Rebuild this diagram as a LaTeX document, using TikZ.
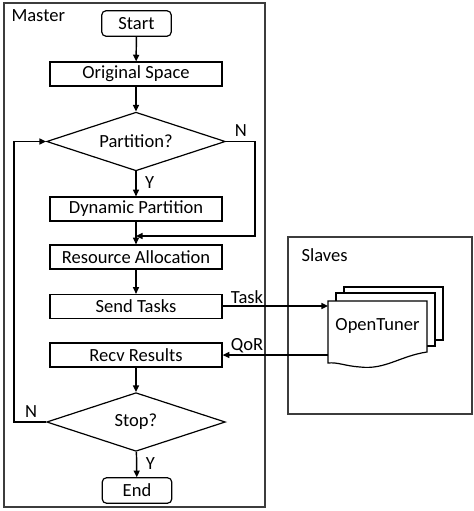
\documentclass[tikz,border=0pt]{standalone}
\usepackage{fontspec}
\setmainfont{Carlito}
\usetikzlibrary{shapes.geometric,arrows.meta}

\tikzset{every picture/.style={line width=0.75pt}}
\tikzset{
  procbox/.style={draw, line width=0.9pt, minimum width=129pt, minimum height=18pt, inner sep=0pt},
  termbox/.style={draw, line width=0.9pt, rounded corners=3pt, minimum width=52pt, minimum height=19pt, inner sep=0pt},
  decision/.style={draw, line width=0.9pt, diamond, aspect=3, minimum width=134pt, minimum height=44pt, inner sep=0pt},
  flow/.style={line width=1.1pt, -{Triangle[length=5pt,width=4.5pt]}},
  page/.style={draw, line width=0.9pt, fill=white},
}

\begin{document}
\begin{tikzpicture}[x=0.75pt,y=0.75pt,yscale=-1,xscale=1,font=\fontsize{13.9pt}{16pt}\selectfont]
\useasboundingbox (0,0) rectangle (474,511);

%Shape: Rectangle [id:master]
\draw [color={rgb, 255:red, 60; green, 60; blue, 60 }, line width=1.1pt] (4,3) rectangle (265,507);
%Shape: Rectangle [id:slaves]
\draw [color={rgb, 255:red, 60; green, 60; blue, 60 }, line width=1.1pt] (288,237) rectangle (472,414);

% Text Node
\draw (10,8) node [anchor=north west][inner sep=0.75pt] (mastertxt) {Master};
% Text Node
\draw (300,247) node [anchor=north west][inner sep=0.75pt] (slavestxt) {Slaves};

%Flow nodes
\node [termbox] (start) at (136.5,23.5) {Start};
\node [procbox] (orig) at (136,74) {Original Space};
\node [decision] (part) at (136,141.5) {Partition?};
\node [procbox] (dyn) at (136,209) {Dynamic Partition};
\node [procbox] (res) at (136,257) {Resource Allocation};
\node [procbox] (send) at (136,306.5) {Send Tasks};
\node [procbox] (recv) at (136,355) {Recv Results};
\node [decision] (stop) at (136,422) {Stop?};
\node [termbox] (end) at (137,490.5) {End};

%Shape: Documents [id:opentuner]
\foreach \dx/\dy in {16/-14, 8/-8} {
  \draw [page] (328+\dx,301+\dy) rectangle (427+\dx,354+\dy);
}
\draw [page] (328,301) -- (427,301) -- (427,352) .. controls (400,356) and (385,370) .. (360,367) .. controls (345,366) and (338,362) .. (328,363) -- cycle;
\node [anchor=center] (tuner) at (377.5,326) {OpenTuner};
\coordinate (tunerin) at (328,306);
\coordinate (tunerout) at (328,355);

%Connectors
\draw [flow] (start) -- (orig);
\draw [flow] (orig) -- (part);
\draw [flow] (part) -- (dyn) node [pos=0.45, right=3pt] {Y};
\coordinate (merge) at (136,236);
\draw [flow] (dyn) -- (res);
\draw [flow] (part.east) -- (255,141.5) -- (255,236) -- (merge);
\node [anchor=south west, xshift=3pt] (nlab) at (part.east) {N};
\draw [flow] (res) -- (send);
\draw [flow] (send.east |- tunerin) -- (tunerin) node [pos=0.06, anchor=south west, inner sep=1pt] {Task};
\draw [flow] (tunerout) -- (recv.east |- tunerout) node [pos=0.94, anchor=south west, inner sep=1pt] {QoR};
\draw [flow] (recv) -- (stop);
\draw [flow] (stop.west) -- (14,422) -- (14,141.5) -- (part.west);
\node [anchor=south east, xshift=-3pt] (nlab2) at (stop.west) {N};
\draw [flow] (stop) -- (end) node [pos=0.45, right=3pt] {Y};

\end{tikzpicture}
\end{document}
